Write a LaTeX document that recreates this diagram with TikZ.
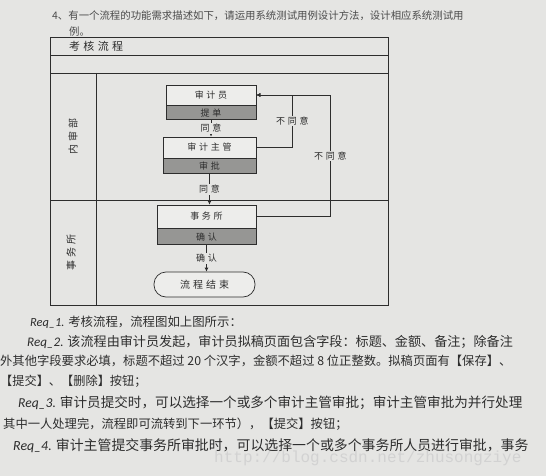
\documentclass[tikz,border=0pt]{standalone}
\usepackage{fontspec}
\setmainfont{Carlito}
\newfontfamily\cjk{Noto Sans CJK SC}
\newfontfamily\cjksp{Noto Sans CJK SC}[LetterSpace=30]
\newfontfamily\latf{Carlito}
\newfontfamily\wmfont{Liberation Mono}
\usetikzlibrary{arrows.meta}
\definecolor{paper}{RGB}{229,229,227}
\definecolor{boxw}{RGB}{237,237,235}
\definecolor{band}{RGB}{150,150,148}
\definecolor{ink}{RGB}{45,45,45}
\definecolor{inkl}{RGB}{75,75,75}
\definecolor{wm}{RGB}{210,210,210}
\newcommand\reqlab[1]{{\latf\itshape #1}}
\begin{document}
\begin{tikzpicture}[x=1pt,y=-1pt,
  frame/.style={draw=ink, line width=0.9pt},
  hdr/.style={inner sep=0pt, text=ink, font=\cjksp\fontsize{11}{13}\selectfont},
  lane/.style={inner sep=0pt, text=ink, rotate=90, font=\cjksp\fontsize{10}{12}\selectfont},
  toppart/.style={draw=ink, fill=boxw, line width=0.7pt, inner sep=0pt, text=ink, font=\cjksp\fontsize{9}{11}\selectfont},
  botpart/.style={draw=ink, fill=band, line width=0.7pt, inner sep=0pt, text=ink, font=\cjksp\fontsize{9}{11}\selectfont},
  term/.style={draw=ink, fill=boxw, line width=0.7pt, rounded corners=12pt, inner sep=0pt, text=ink, font=\cjksp\fontsize{10}{12}\selectfont},
  arr/.style={draw=ink, line width=0.7pt, -{Latex[length=4pt,width=4pt]}},
  lbl/.style={fill=paper, inner sep=1pt, text=ink, font=\cjksp\fontsize{9}{11}\selectfont},
  body/.style={anchor=west, inner sep=0pt, text=ink}
]
\fill[paper] (0,0) rectangle (546,476);
\useasboundingbox (0,0) rectangle (546,476);

% question text
\node[body, text=inkl, font=\cjk\fontsize{10.4}{12}\selectfont] (q4) at (52,16) {4、有一个流程的功能需求描述如下，请运用系统测试用例设计方法，设计相应系统测试用};
\node[body, text=inkl, font=\cjk\fontsize{10.4}{12}\selectfont] (q4b) at (69,32) {例。};

% frame
\draw[frame] (50,37) rectangle (388,305);
\draw[frame] (50,55) -- (388,55);
\draw[frame] (50,73) -- (388,73);
\draw[frame] (50,200) -- (388,200);
\draw[frame] (96,73) -- (96,305);

\node[hdr, anchor=west] (title) at (69,46) {考核流程};
\node[lane] (l1) at (73,136) {内审部};
\node[lane] (l2) at (71,252) {事务所};

% boxes
\node[toppart, minimum width=90pt, minimum height=20pt] (sjy) at (211,95) {审计员};
\node[botpart, minimum width=90pt, minimum height=14pt, anchor=north] (sjyb) at (sjy.south) {提单};
\node[toppart, minimum width=93pt, minimum height=21pt] (zg) at (209.5,147.5) {审计主管};
\node[botpart, minimum width=93pt, minimum height=15pt, anchor=north] (zgb) at (zg.south) {审批};
\node[toppart, minimum width=99pt, minimum height=23pt] (sws) at (206.5,216.5) {事务所};
\node[botpart, minimum width=99pt, minimum height=16pt, anchor=north] (swsb) at (sws.south) {确认};
\node[term, minimum width=101pt, minimum height=25pt] (end) at (204.5,284.5) {流程结束};

% connectors
\draw[arr] (sjyb.south) -- (sjyb.south |- zg.north) node[lbl, midway] {同意};
\draw[arr] (zgb.south) -- (zgb.south |- sws.north) node[lbl, midway] {同意};
\draw[arr] (swsb.south) -- (swsb.south |- end.north) node[lbl, midway] {确认};
\draw[arr] (zg.east) -- ++(36,0) |- (sjy.east) node[lbl, pos=0.25] {不同意};
\draw[arr] (sws.east) -- ++(74,0) |- (sjy.east) node[lbl, pos=0.25] {不同意};

% watermark
\node[body, text=wm, font=\wmfont\fontsize{16}{18}\selectfont] (wmk) at (214,458) {http://blog.csdn.net/zhusongziye};

% requirement text
\node[body, font=\cjk\fontsize{12.4}{14}\selectfont] (r1) at (30,322) {\reqlab{Req\_1.} 考核流程，流程图如上图所示：};
\node[body, font=\cjk\fontsize{13.1}{15}\selectfont] (r2) at (27,342) {\reqlab{Req\_2.} 该流程由审计员发起，审计员拟稿页面包含字段：标题、金额、备注；除备注};
\node[body, font=\cjk\fontsize{12.3}{14}\selectfont] (r2b) at (0,361) {外其他字段要求必填，标题不超过 20 个汉字，金额不超过 8 位正整数。拟稿页面有【保存】、};
\node[body, font=\cjk\fontsize{12.2}{14}\selectfont] (r2c) at (0,381) {【提交】、【删除】按钮；};
\node[body, font=\cjk\fontsize{13.6}{15}\selectfont] (r3) at (18,403) {\reqlab{Req\_3.} 审计员提交时，可以选择一个或多个审计主管审批；审计主管审批为并行处理};
\node[body, font=\cjk\fontsize{12.3}{15}\selectfont] (r3b) at (3,424) {其中一人处理完，流程即可流转到下一环节），【提交】按钮；};
\node[body, font=\cjk\fontsize{13.9}{16}\selectfont] (r4) at (13,446) {\reqlab{Req\_4.} 审计主管提交事务所审批时，可以选择一个或多个事务所人员进行审批，事务};
\end{tikzpicture}
\end{document}
